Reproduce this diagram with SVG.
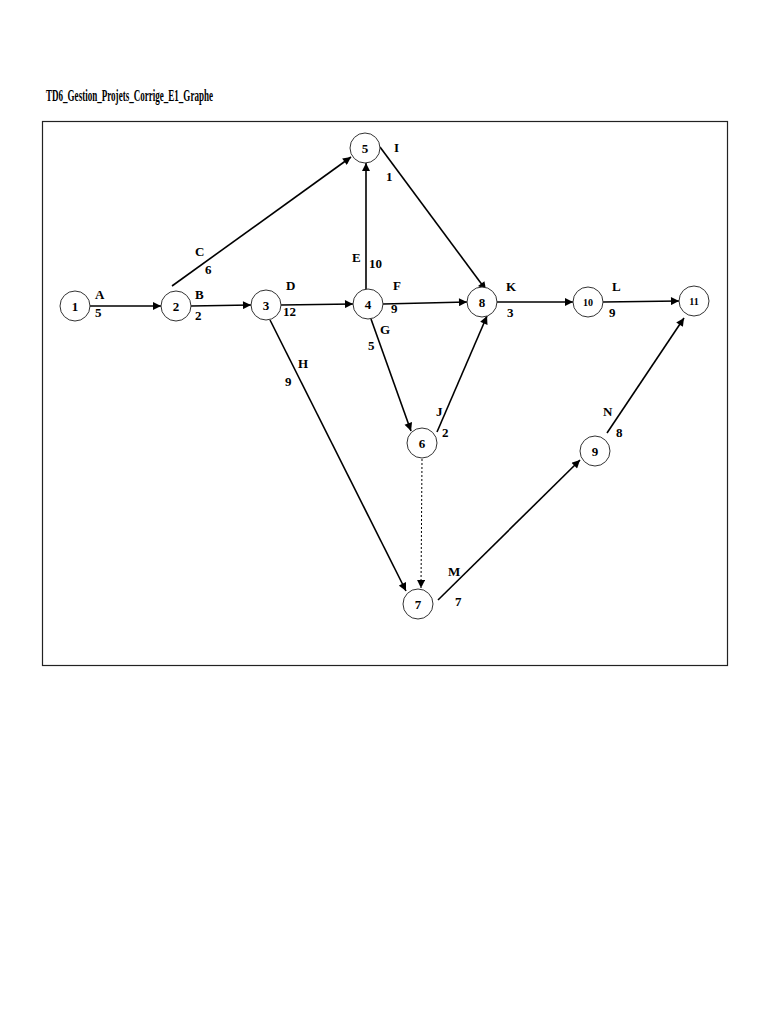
<svg xmlns="http://www.w3.org/2000/svg" width="768" height="1024" viewBox="0 0 768 1024">
<defs>
<marker id="ah" viewBox="0 0 10 10" refX="10" refY="5" markerWidth="10" markerHeight="8" markerUnits="userSpaceOnUse" orient="auto">
<path d="M0,0 L10,5 L0,10 z" fill="#000"/>
</marker>
</defs>
<style>
.t{font-family:"Liberation Serif","Times New Roman",serif;font-weight:bold;font-size:13px;fill:#000}
.n{font-family:"Liberation Serif","Times New Roman",serif;font-weight:bold;font-size:13px;fill:#000;text-anchor:middle}
.s{font-size:10px}
.c{fill:#fff;stroke:#333;stroke-width:1}
.e{stroke:#000;stroke-width:1.6;fill:none;marker-end:url(#ah)}
.d{stroke:#000;stroke-width:1;fill:none;stroke-dasharray:2,2;marker-end:url(#ah)}
</style>
<rect width="768" height="1024" fill="#fff"/>
<text class="t" x="46" y="101" style="font-size:16px" textLength="167" lengthAdjust="spacingAndGlyphs">TD6_Gestion_Projets_Corrige_E1_Graphe</text>
<rect x="42.5" y="121.5" width="685" height="544" fill="none" stroke="#222" stroke-width="1.2"/>
<g id="connectors">
<line class="e" x1="90" y1="306" x2="161" y2="306"/>
<line class="e" x1="191" y1="306" x2="251" y2="305"/>
<line class="e" x1="281" y1="305" x2="353" y2="304" stroke-width="2"/>
<line class="e" x1="383" y1="304" x2="467" y2="302"/>
<line class="e" x1="497" y1="302" x2="573" y2="302" stroke-width="2"/>
<line class="e" x1="603" y1="302" x2="679" y2="301" stroke-width="2"/>
<line class="e" x1="172" y1="286" x2="351" y2="157"/>
<line class="e" x1="366" y1="289" x2="366" y2="163" stroke-width="1.2"/>
<line class="e" x1="380" y1="147" x2="486" y2="290"/>
<line class="e" x1="371" y1="319" x2="411" y2="431"/>
<line class="e" x1="437" y1="432" x2="487" y2="316"/>
<line class="e" x1="270" y1="320" x2="406" y2="591"/>
<line class="d" x1="422" y1="459" x2="421" y2="588"/>
<line class="e" x1="438" y1="600" x2="580" y2="460"/>
<line class="e" x1="607" y1="433" x2="684" y2="318"/>
</g>
<g id="labels">
<text class="t" x="95" y="299">A</text><text class="t" x="95" y="317">5</text>
<text class="t" x="195" y="299">B</text><text class="t" x="195" y="320">2</text>
<text class="t" x="195" y="256">C</text><text class="t" x="205" y="274">6</text>
<text class="t" x="286" y="290">D</text><text class="t" x="283" y="316">12</text>
<text class="t" x="352" y="262">E</text><text class="t" x="369" y="268">10</text>
<text class="t" x="393" y="290">F</text><text class="t" x="391" y="313">9</text>
<text class="t" x="380" y="334">G</text><text class="t" x="368" y="350">5</text>
<text class="t" x="394" y="152">I</text><text class="t" x="386" y="181">1</text>
<text class="t" x="506" y="291">K</text><text class="t" x="507" y="317">3</text>
<text class="t" x="612" y="291">L</text><text class="t" x="609" y="317">9</text>
<text class="t" x="298" y="368">H</text><text class="t" x="285" y="386">9</text>
<text class="t" x="436" y="416">J</text><text class="t" x="442" y="437">2</text>
<text class="t" x="603" y="416">N</text><text class="t" x="616" y="437">8</text>
<text class="t" x="448" y="576">M</text><text class="t" x="455" y="606">7</text>
</g>
<g id="node1"><circle class="c" cx="75" cy="306" r="15"/><text class="n" x="75" y="311">1</text></g>
<g id="node2"><circle class="c" cx="176" cy="306" r="15"/><text class="n" x="176" y="311">2</text></g>
<g id="node3"><circle class="c" cx="266" cy="305" r="15"/><text class="n" x="266" y="310">3</text></g>
<g id="node4"><circle class="c" cx="368" cy="304" r="15"/><text class="n" x="368" y="309">4</text></g>
<g id="node5"><circle class="c" cx="365" cy="148" r="15"/><text class="n" x="365" y="153">5</text></g>
<g id="node6"><circle class="c" cx="422" cy="443" r="15"/><text class="n" x="422" y="448">6</text></g>
<g id="node7"><circle class="c" cx="418" cy="604" r="15"/><text class="n" x="418" y="609">7</text></g>
<g id="node8"><circle class="c" cx="482" cy="302" r="15"/><text class="n" x="482" y="307">8</text></g>
<g id="node9"><circle class="c" cx="595" cy="451" r="15"/><text class="n" x="595" y="456">9</text></g>
<g id="node10"><circle class="c" cx="588" cy="302" r="15"/><text class="n s" x="588" y="306">10</text></g>
<g id="node11"><circle class="c" cx="694" cy="301" r="15"/><text class="n s" x="694" y="305">11</text></g>
</svg>
